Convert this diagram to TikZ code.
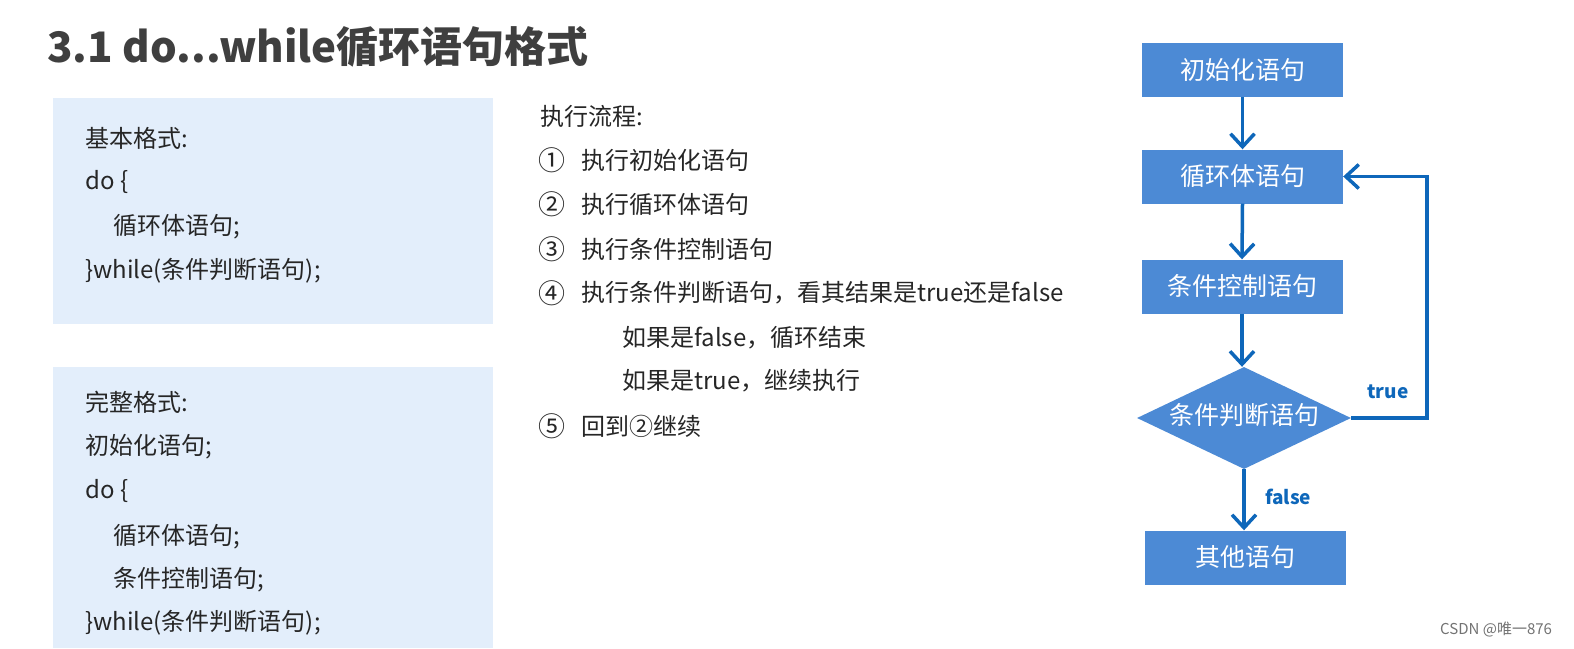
\documentclass[tikz,border=0pt]{standalone}
\usepackage{fontspec}
\setmainfont{Noto Sans CJK SC}
\usetikzlibrary{shapes.geometric,arrows.meta}
\definecolor{panel}{HTML}{E3EEFB}
\definecolor{flowfill}{HTML}{4C8AD5}
\definecolor{flowline}{HTML}{0E67BA}
\definecolor{bodytext}{HTML}{262626}
\definecolor{titletext}{HTML}{3F3F3F}
\begin{document}
\begin{tikzpicture}[x=1pt,y=-1pt,
  txt/.style={anchor=west,inner sep=0pt,text=bodytext,font=\fontsize{24}{24}\selectfont},
  num/.style={anchor=west,inner sep=0pt,text=bodytext,font=\fontsize{27}{27}\selectfont},
  flowbox/.style={rectangle,fill=flowfill,text=white,minimum width=201pt,minimum height=54pt,inner sep=0pt,font=\fontsize{25}{25}\selectfont},
  flowdia/.style={diamond,fill=flowfill,text=white,aspect=2.1,inner sep=0pt,minimum width=214pt,minimum height=102pt,text height=18pt,text depth=5pt,font=\fontsize{25}{25}\selectfont},
  flowarrow/.style={draw=flowline,line width=3.5pt,-{Straight Barb[length=13pt,width=24pt,line width=3.5pt]}},
  lbl/.style={inner sep=0pt,text=flowline,font=\bfseries\fontsize{19}{19}\selectfont}]
\useasboundingbox (0,0) rectangle (1574,648);
\fill[white] (0,0) rectangle (1574,648);
% title
\node[anchor=west,inner sep=0pt,text=titletext,font=\bfseries\fontsize{42}{42}\selectfont] (title) at (47,47) {3.1 do...while循环语句格式};
% panels
\fill[panel] (53,98) rectangle (493,324);
\fill[panel] (53,367) rectangle (493,648);
\node[txt] (b1) at (85,138) {基本格式:};
\node[txt] (b2) at (85,182) {do \{};
\node[txt] (b3) at (113,227) {循环体语句;};
\node[txt] (b4) at (85,271) {\}while(条件判断语句);};
\node[txt] (c1) at (85,402) {完整格式:};
\node[txt] (c2) at (85,447) {初始化语句;};
\node[txt] (c3) at (85,491) {do \{};
\node[txt] (c4) at (113,537) {循环体语句;};
\node[txt] (c5) at (113,580) {条件控制语句;};
\node[txt] (c6) at (85,623) {\}while(条件判断语句);};
% steps
\node[txt] (s0) at (540,116) {执行流程:};
\node[num] (n1) at (538,160) {①};
\node[txt] (t1) at (581,160) {执行初始化语句};
\node[num] (n2) at (538,204) {②};
\node[txt] (t2) at (581,204) {执行循环体语句};
\node[num] (n3) at (538,249) {③};
\node[txt] (t3) at (581,249) {执行条件控制语句};
\node[num] (n4) at (538,293) {④};
\node[txt] (t4) at (581,293) {执行条件判断语句，看其结果是true还是false};
\node[txt] (t4a) at (622,338) {如果是false，循环结束};
\node[txt] (t4b) at (622,381) {如果是true，继续执行};
\node[num] (n5) at (538,426) {⑤};
\node[txt] (t5) at (581,426) {回到②继续};
% flowchart
\node[flowbox] (init) at (1242.5,70) {初始化语句};
\node[flowbox] (body) at (1242.5,176.5) {循环体语句};
\node[flowbox] (ctrl) at (1242,286.5) {条件控制语句};
\node[flowdia] (cond) at (1244,418) {条件判断语句};
\node[flowbox] (other) at (1245.5,557.5) {其他语句};
\coordinate (loopc) at (1427,418);
\draw[flowarrow] (init.south) -- (body.north);
\draw[flowarrow] (body.south) -- (ctrl.north);
\draw[flowarrow] (ctrl.south) -- (ctrl.south |- cond.north);
\draw[flowarrow] (cond.south) -- (cond.south |- other.north);
\draw[flowarrow] (cond.east) -- (loopc) |- (body.east);
\node[lbl] (ltrue) at (1388,392) {true};
\node[lbl] (lfalse) at (1288,497) {false};
% watermark
\node[anchor=west,inner sep=0pt,text=black!55,font=\fontsize{15}{15}\selectfont] (wm) at (1440,630) {CSDN @唯一876};
\end{tikzpicture}
\end{document}
